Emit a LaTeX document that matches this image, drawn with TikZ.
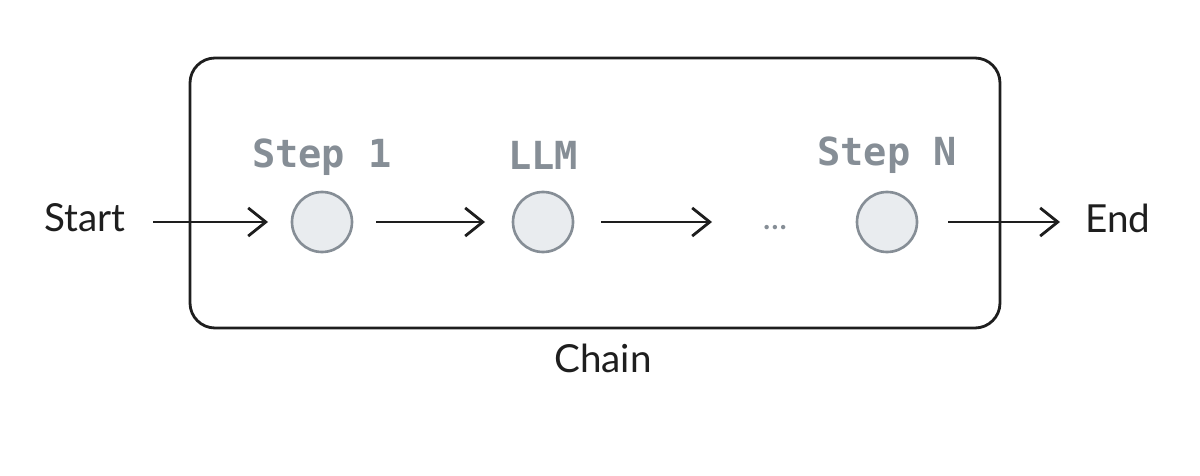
\documentclass[tikz,border=0pt]{standalone}
\usepackage{fontspec}
\setmainfont{Lato}
\setmonofont{DejaVu Sans Mono}
\usetikzlibrary{arrows.meta}
\definecolor{ink}{HTML}{1E1E1E}
\definecolor{lab}{HTML}{868E96}
\definecolor{cfill}{HTML}{E9ECEF}
\tikzset{
  stepnode/.style={circle,draw=lab,fill=cfill,line width=1.5pt,minimum size=60\unit,inner sep=0},
  steplab/.style={font=\ttfamily\bfseries\fontsize{22}{24}\selectfont,text=lab},
  hand/.style={font=\fontsize{22}{24}\selectfont,text=ink},
  conn/.style={draw=ink,line width=1.6pt,-{Straight Barb[length=10pt,width=16pt]}}
}
\newlength{\unit}\setlength{\unit}{0.02cm}
\begin{document}
\begin{tikzpicture}[x=0.02cm,y=-0.02cm]
\useasboundingbox (0,0) rectangle (1200,476);
\draw[ink,line width=1.6pt,rounded corners=25\unit] (190,58) rectangle (1000,328);
\node[stepnode] (s1) at (322,222) {};
\node[stepnode] (llm) at (543,222) {};
\node[stepnode] (sn) at (887,222) {};
\node[steplab] (l1) at (322,157) {Step 1};
\node[steplab] (l2) at (543,155) {LLM};
\node[steplab] (l3) at (887,155) {Step N};
\node[hand] (start) at (85,218) {Start};
\node[hand] (end) at (1118,218) {End};
\node[hand] (chain) at (603,358) {Chain};
\node[font=\fontsize{20}{22}\selectfont,text=lab] (dots) at (775,228) {...};
\coordinate (a1) at (153,222); \coordinate (a2) at (268,222);
\coordinate (b1) at (376,222); \coordinate (b2) at (485,222);
\coordinate (c1) at (601,222); \coordinate (c2) at (712,222);
\coordinate (d1) at (948,222); \coordinate (d2) at (1060,222);
\draw[conn] (a1) -- (a2);
\draw[conn] (b1) -- (b2);
\draw[conn] (c1) -- (c2);
\draw[conn] (d1) -- (d2);
\end{tikzpicture}
\end{document}
